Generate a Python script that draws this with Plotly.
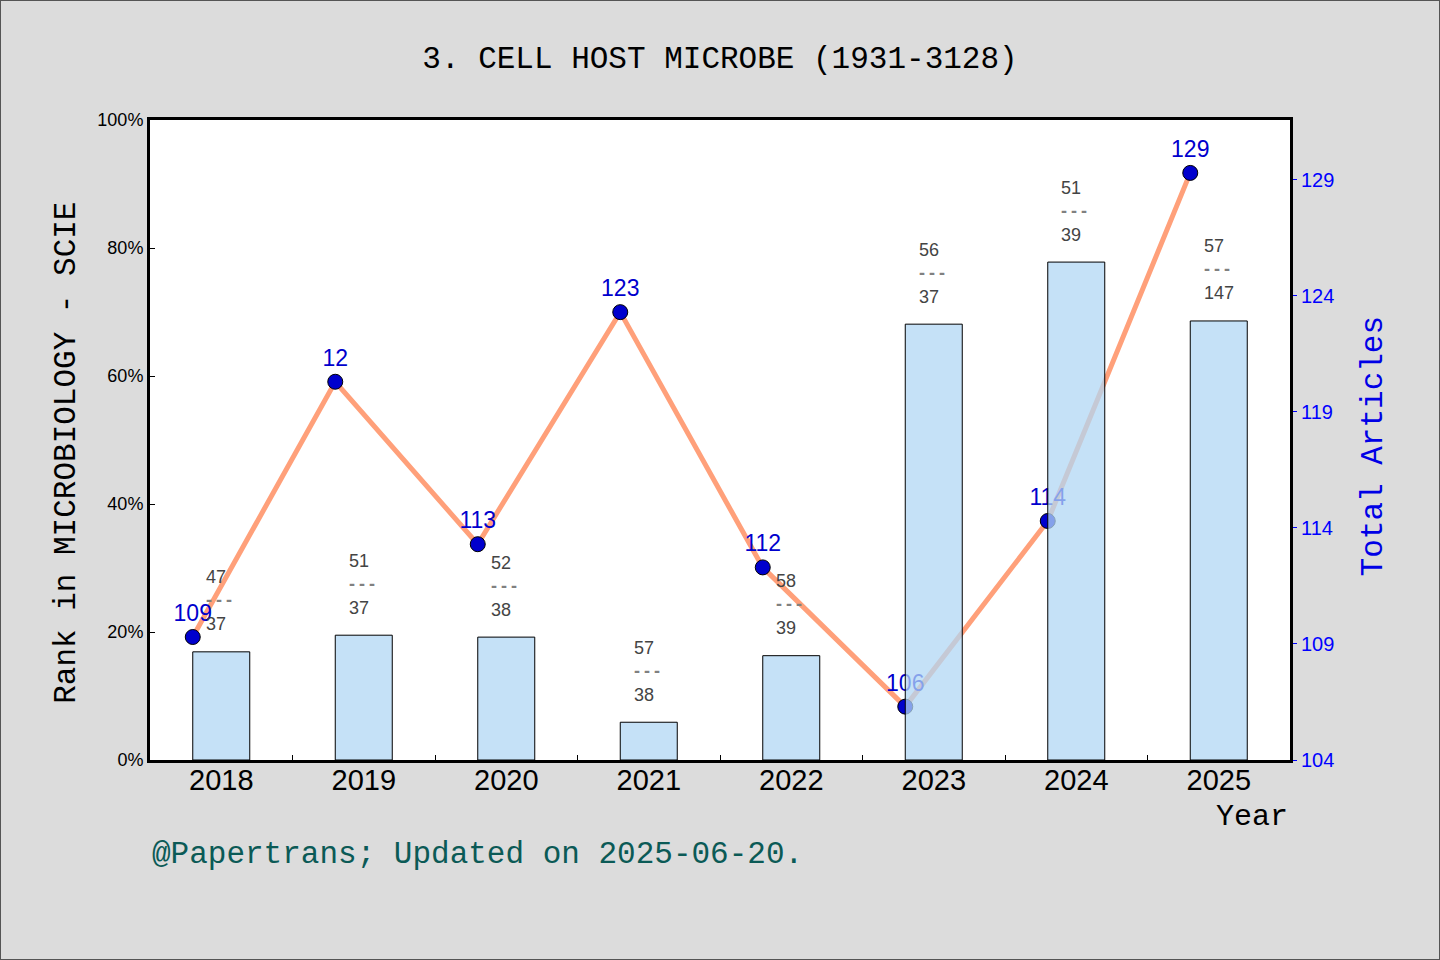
import numpy as np
import plotly.graph_objects as go

# data
years = ["2018", "2019", "2020", "2021", "2022", "2023", "2024", "2025"]
rank_pct = [16.9, 19.5, 19.2, 5.9, 16.3, 68.1, 77.8, 68.6]
rank_top = ["47", "51", "52", "57", "58", "56", "51", "57"]
rank_bottom = ["37", "37", "38", "38", "39", "37", "39", "147"]
articles = [109, 120, 113, 123, 112, 106, 114, 129]
article_labels = ["109", "12", "113", "123", "112", "106", "114", "129"]
pct_ticks = [0, 20, 40, 60, 80, 100]

title = "3. CELL HOST MICROBE (1931-3128)"
footer = "@Papertrans; Updated on 2025-06-20."

MONO = "Liberation Mono"
SANS = "Liberation Sans"

fig = go.Figure()

# Total articles line (base subplot, drawn underneath the bars)
fig.add_trace(go.Scatter(
    x=years, y=articles, xaxis="x", yaxis="y",
    mode="lines+markers+text",
    text=article_labels, textposition="top center",
    textfont=dict(family=SANS, size=23, color="#0000cd"),
    line=dict(color="#ffa07a", width=5),
    marker=dict(size=15, color="#0000cd", line=dict(color="black", width=1)),
    cliponaxis=False, showlegend=False, hoverinfo="x+y",
))

# Rank bars (overlay subplot, semi-transparent, on top of the line)
fig.add_trace(go.Bar(
    x=years, y=rank_pct, xaxis="x2", yaxis="y2",
    width=0.4,
    marker=dict(color="rgba(178,215,244,0.75)", line=dict(color="black", width=1)),
    showlegend=False, hoverinfo="x+y",
))

# "rank / total" label stacked above each bar
annotations = []
for i, (val, top, bot) in enumerate(zip(rank_pct, rank_top, rank_bottom)):
    label = (f"{top}<br>"
             f"<span style='letter-spacing:4px;font-weight:bold;fill:#808080'>---</span><br>"
             f"{bot}")
    annotations.append(dict(
        x=i, y=val, xref="x2", yref="y2", text=label, showarrow=False,
        align="left", xanchor="left", yanchor="middle", xshift=-17, yshift=51,
        font=dict(family=SANS, size=18, color="#444444"),
    ))

annotations += [
    dict(text="Rank in MICROBIOLOGY - SCIE", xref="paper", yref="paper",
         x=-0.0728, y=0.48, textangle=-90, showarrow=False,
         xanchor="center", yanchor="middle",
         font=dict(family=MONO, size=31, color="black")),
    dict(text="Total Articles", xref="paper", yref="paper",
         x=1.0728, y=0.49, textangle=-90, showarrow=False,
         xanchor="center", yanchor="middle",
         font=dict(family=MONO, size=31, color="#0000e6")),
    dict(text="Year", xref="paper", yref="paper", x=1.0, y=-0.089,
         showarrow=False, xanchor="right", yanchor="middle",
         font=dict(family=MONO, size=30, color="black")),
    dict(text=footer, xref="paper", yref="paper", x=0.0, y=-0.148,
         showarrow=False, xanchor="left", yanchor="middle",
         font=dict(family=MONO, size=31, color="#0b5a56")),
]

art_ticks = np.arange(103.7, 131.0, 5.0)

fig.update_layout(
    width=1440, height=960,
    margin=dict(l=150, r=150, t=120, b=200),
    paper_bgcolor="#dcdcdc", plot_bgcolor="white",
    title=dict(text=title, x=0.5, xanchor="center", y=1 - 57 / 960, yanchor="middle",
               font=dict(family=MONO, size=31, color="black")),
    xaxis=dict(type="category", range=[-0.3, 7.7], visible=False),
    xaxis2=dict(type="category", overlaying="x", anchor="y2", side="bottom",
                range=[-0.5, 7.5], showgrid=False,
                showline=True, linecolor="black", linewidth=3, mirror=True,
                tickson="boundaries", ticks="inside", ticklen=5, tickcolor="black",
                ticklabelstandoff=-8,
                tickfont=dict(family=SANS, size=29, color="black")),
    yaxis=dict(side="right", anchor="x", range=[103.7, 131.28],
               tickvals=list(art_ticks), ticktext=[f"{v:.0f}" for v in art_ticks],
               ticks="outside", ticklen=4, tickcolor="blue",
               tickfont=dict(family=SANS, size=20, color="blue"),
               showline=True, linecolor="black", linewidth=3,
               showgrid=False, zeroline=False),
    yaxis2=dict(overlaying="y", side="left", anchor="x2", range=[0, 100],
                tickvals=pct_ticks, ticktext=[f"{v}%" for v in pct_ticks],
                ticks="inside", ticklen=5, tickcolor="black",
                tickfont=dict(family=SANS, size=18, color="black"),
                showline=True, linecolor="black", linewidth=3,
                showgrid=False, zeroline=False),
    annotations=annotations,
    shapes=[dict(type="rect", xref="paper", yref="paper",
                 x0=-150 / 1140, x1=1 + 150 / 1140, y0=-200 / 640, y1=1 + 120 / 640,
                 line=dict(color="#555555", width=2), fillcolor="rgba(0,0,0,0)",
                 layer="below")],
)

fig.write_html("out.html", config={"displayModeBar": False},
               post_script="document.body.style.margin='0';")
